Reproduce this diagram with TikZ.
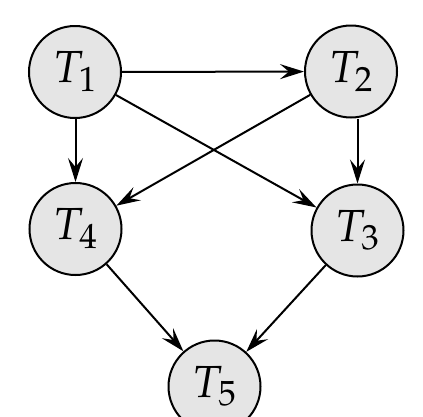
\documentclass[tikz,border=0pt]{standalone}
\usepackage{mathpazo}
\usetikzlibrary{arrows.meta}
\DeclareMathSizes{45}{45}{35}{26}
\begin{document}
\begin{tikzpicture}[x=1pt,y=-1pt,
  task/.style={circle, draw=black, line width=2pt, fill=gray!20, minimum size=92pt, inner sep=0pt, font=\fontsize{45}{52}\selectfont},
  arr/.style={line width=2pt, -{Stealth[length=24pt,width=15pt,inset=9pt]}}]
\useasboundingbox (0,0) rectangle (423,416);
\node[task] (T1) at (75,72) {$T_1$};
\node[task] (T2) at (351,71.5) {$T_2$};
\node[task] (T4) at (75.5,229) {$T_4$};
\node[task] (T3) at (357.5,230.5) {$T_3$};
\node[task] (T5) at (214.5,386.5) {$T_5$};
\draw[arr] (T1) -- (T2);
\draw[arr] (T1.south -| T4.north) -- (T4.north);
\draw[arr] (T2.south -| T3.north) -- (T3.north);
\draw[arr] (T1) -- (T3);
\draw[arr] (T2) -- (T4);
\draw[arr] (T4) -- (T5);
\draw[arr] (T3) -- (T5);
\end{tikzpicture}
\end{document}
